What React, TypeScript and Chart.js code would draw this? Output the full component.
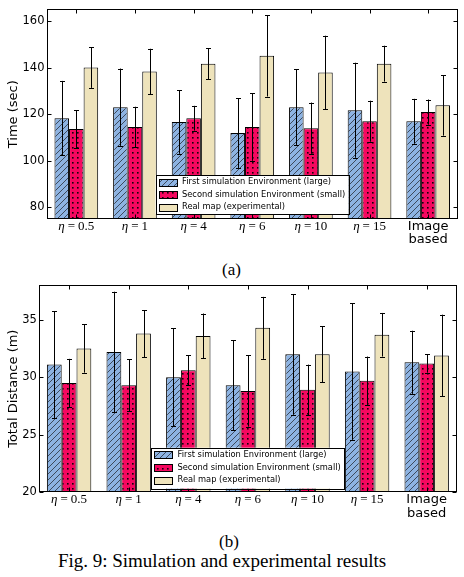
import React, { useEffect, useRef } from "react";
import { Chart, registerables } from "chart.js";
Chart.register(...registerables);

const CATEGORIES = ["η=0.5", "η=1", "η=4", "η=6", "η=10", "η=15", "Image based"];
const SERIES_LABELS = [
  "First simulation Environment (large)",
  "Second simulation Environment (small)",
  "Real map (experimental)",
];

const TIME_FIRST = [118.3, 123.0, 116.6, 111.9, 123.0, 121.7, 117.0];
const TIME_FIRST_ERR = [16.0, 16.6, 13.6, 15.0, 16.2, 20.4, 9.6];
const TIME_SECOND = [113.6, 114.5, 118.3, 114.5, 114.0, 117.0, 120.9];
const TIME_SECOND_ERR = [8.2, 8.7, 5.3, 14.5, 11.0, 8.8, 5.4];
const TIME_REAL = [140.0, 138.3, 141.7, 145.1, 137.9, 141.7, 123.8];
const TIME_REAL_ERR = [8.7, 9.8, 6.6, 17.5, 15.8, 7.7, 13.0];
const TIME_TICKS = [80, 100, 120, 140, 160];

const DIST_FIRST = [31.1, 32.2, 30.0, 29.3, 32.0, 30.5, 31.3];
const DIST_FIRST_ERR = [4.65, 5.25, 4.25, 3.9, 5.25, 5.95, 2.75];
const DIST_SECOND = [29.5, 29.3, 30.6, 28.8, 28.9, 29.7, 31.2];
const DIST_SECOND_ERR = [2.1, 2.25, 1.3, 3.1, 2.2, 2.1, 0.8];
const DIST_REAL = [32.5, 33.8, 33.6, 34.3, 32.0, 33.7, 31.9];
const DIST_REAL_ERR = [2.1, 2.05, 1.95, 2.7, 2.45, 1.9, 3.55];
const DIST_TICKS = [20, 25, 30, 35];

const BLUE = "#8db3e2";
const HATCH = "#3d4a5c";
const RED = "#f5085f";
const BEIGE = "#eee3bb";

function hatchPattern(): CanvasPattern | string {
  const c = document.createElement("canvas");
  c.width = 6;
  c.height = 6;
  const g = c.getContext("2d");
  if (!g) return BLUE;
  g.fillStyle = BLUE;
  g.fillRect(0, 0, 6, 6);
  g.strokeStyle = HATCH;
  g.lineWidth = 1;
  g.beginPath();
  g.moveTo(-1, 7);
  g.lineTo(7, -1);
  g.moveTo(-4, 4);
  g.lineTo(4, -4);
  g.moveTo(2, 10);
  g.lineTo(10, 2);
  g.stroke();
  return g.createPattern(c, "repeat") || BLUE;
}

function dotPattern(): CanvasPattern | string {
  const c = document.createElement("canvas");
  c.width = 5;
  c.height = 5;
  const g = c.getContext("2d");
  if (!g) return RED;
  g.fillStyle = RED;
  g.fillRect(0, 0, 5, 5);
  g.fillStyle = "#14000a";
  g.fillRect(2, 2, 1.6, 1.6);
  return g.createPattern(c, "repeat") || RED;
}

const errorBarsPlugin = {
  id: "errorBars",
  afterDatasetsDraw(chart: any, _a: any, opts: any) {
    const errs: number[][] = opts.errors || [];
    const ctx = chart.ctx;
    const y = chart.scales.y;
    const area = chart.chartArea;
    ctx.save();
    ctx.beginPath();
    ctx.rect(area.left, area.top, area.right - area.left, area.bottom - area.top);
    ctx.clip();
    ctx.strokeStyle = "#000";
    ctx.lineWidth = 1;
    chart.data.datasets.forEach((ds: any, i: number) => {
      const meta = chart.getDatasetMeta(i);
      meta.data.forEach((el: any, j: number) => {
        const v = ds.data[j];
        const e = (errs[i] || [])[j] || 0;
        const yh = y.getPixelForValue(v + e);
        const yl = y.getPixelForValue(v - e);
        const x = Math.round(el.x) + 0.5;
        ctx.beginPath();
        ctx.moveTo(x, yh);
        ctx.lineTo(x, yl);
        ctx.moveTo(x - 2.5, Math.round(yh) + 0.5);
        ctx.lineTo(x + 2.5, Math.round(yh) + 0.5);
        ctx.moveTo(x - 2.5, Math.round(yl) + 0.5);
        ctx.lineTo(x + 2.5, Math.round(yl) + 0.5);
        ctx.stroke();
      });
    });
    ctx.restore();
  },
};

const framePlugin = {
  id: "frame",
  afterDatasetsDraw(chart: any) {
    const ctx = chart.ctx;
    const a = chart.chartArea;
    const x = chart.scales.x;
    const y = chart.scales.y;
    ctx.save();
    ctx.strokeStyle = "#000";
    ctx.lineWidth = 1;
    const L = Math.round(a.left) + 0.5;
    const R = Math.round(a.right) - 0.5;
    const T = Math.round(a.top) + 0.5;
    const B = Math.round(a.bottom) - 0.5;
    ctx.strokeRect(L, T, R - L, B - T);
    ctx.beginPath();
    y.ticks.forEach((t: any) => {
      const py = Math.round(y.getPixelForValue(t.value)) + 0.5;
      ctx.moveTo(L, py);
      ctx.lineTo(L + 4, py);
      ctx.moveTo(R, py);
      ctx.lineTo(R - 4, py);
    });
    chart.data.labels.forEach((_l: any, i: number) => {
      const px = Math.round(x.getPixelForValue(i)) + 0.5;
      ctx.moveTo(px, T);
      ctx.lineTo(px, T + 4);
      ctx.moveTo(px, B);
      ctx.lineTo(px, B - 4);
    });
    ctx.stroke();
    ctx.restore();
  },
};

const xLabelsPlugin = {
  id: "xLabels",
  afterDraw(chart: any, _a: any, opts: any) {
    const ctx = chart.ctx;
    const x = chart.scales.x;
    const base = chart.chartArea.bottom + (opts.offset || 8);
    ctx.save();
    ctx.fillStyle = "#000";
    ctx.textBaseline = "middle";
    ctx.textAlign = "left";
    chart.data.labels.forEach((lab: string, i: number) => {
      const cx = x.getPixelForValue(i);
      if (lab.startsWith("η=")) {
        const rest = lab.slice(2);
        const fi = 'italic 13px "Liberation Serif"';
        const fr = '13px "Liberation Serif"';
        const gap = 3;
        ctx.font = fi;
        const w1 = ctx.measureText("η").width;
        ctx.font = fr;
        const w2 = ctx.measureText("=").width;
        const w3 = ctx.measureText(rest).width;
        const total = w1 + gap + w2 + gap + w3;
        let px = cx - total / 2;
        ctx.font = fi;
        ctx.fillText("η", px, base);
        px += w1 + gap;
        ctx.font = fr;
        ctx.fillText("=", px, base);
        px += w2 + gap;
        ctx.fillText(rest, px, base);
      } else {
        ctx.font = '13px "DejaVu Sans"';
        ctx.textAlign = "center";
        lab.split(" ").forEach((line, k) => {
          ctx.fillText(line, cx, base + k * (opts.lineGap || 13.5));
        });
        ctx.textAlign = "left";
      }
    });
    ctx.restore();
  },
};

const boxLegendPlugin = {
  id: "boxLegend",
  afterDraw(chart: any, _a: any, o: any) {
    const ctx = chart.ctx;
    ctx.save();
    ctx.fillStyle = "#fff";
    ctx.fillRect(o.x, o.y, o.w, o.h);
    ctx.strokeStyle = "#000";
    ctx.lineWidth = 1;
    ctx.strokeRect(Math.round(o.x) + 0.5, Math.round(o.y) + 0.5, Math.round(o.w), Math.round(o.h));
    ctx.font = '8.3px "DejaVu Sans"';
    ctx.textBaseline = "middle";
    chart.data.datasets.forEach((ds: any, i: number) => {
      const cy = o.y + o.first + i * o.step;
      const sx = Math.round(o.x + 3) + 0.5;
      const sy = Math.round(cy - 3.5) + 0.5;
      ctx.fillStyle = ds.backgroundColor;
      ctx.fillRect(sx, sy, 18, 7);
      ctx.strokeStyle = "#000";
      ctx.strokeRect(sx, sy, 18, 7);
      ctx.fillStyle = "#000";
      ctx.fillText(ds.label, o.x + 26.5, cy);
    });
    ctx.restore();
  },
};

type Cfg = {
  series: number[][];
  errors: number[][];
  ticks: number[];
  min: number;
  max: number;
  title: string;
  height: number;
  padTop: number;
  padRight: number;
  yWidth: number;
  xHeight: number;
  legend: any;
  labelOffset: number;
  lineGap: number;
};

function BarChart({ cfg }: { cfg: Cfg }) {
  const ref = useRef<HTMLCanvasElement | null>(null);
  useEffect(() => {
    if (!ref.current) return;
    const fills = [hatchPattern(), dotPattern(), BEIGE];
    const chart = new Chart(ref.current, {
      type: "bar",
      data: {
        labels: CATEGORIES,
        datasets: cfg.series.map((d, i) => ({
          label: SERIES_LABELS[i],
          data: d,
          backgroundColor: fills[i] as any,
          borderColor: "#000",
          borderWidth: 1,
          borderSkipped: false,
          categoryPercentage: 0.745,
          barPercentage: 1.0,
        })),
      },
      options: {
        animation: false,
        responsive: false,
        devicePixelRatio: 1,
        layout: { padding: { top: cfg.padTop, right: cfg.padRight, left: 0, bottom: 0 } },
        plugins: {
          legend: { display: false },
          tooltip: { enabled: false },
          errorBars: { errors: cfg.errors },
          xLabels: { offset: cfg.labelOffset, lineGap: cfg.lineGap },
          boxLegend: cfg.legend,
        } as any,
        scales: {
          x: {
            grid: { display: false },
            border: { display: false },
            ticks: { display: false },
            afterFit: (s: any) => {
              s.height = cfg.xHeight;
            },
          },
          y: {
            min: cfg.min,
            max: cfg.max,
            grid: { display: false, drawTicks: false },
            border: { display: false },
            afterBuildTicks: (s: any) => {
              s.ticks = cfg.ticks.map((v) => ({ value: v }));
            },
            ticks: {
              padding: 2.5,
              color: "#000",
              font: { family: "DejaVu Sans", size: 11.5 },
            },
            title: {
              display: true,
              text: cfg.title,
              color: "#000",
              font: { family: "DejaVu Sans", size: 13 },
              padding: { top: 6, bottom: 0 },
            },
            afterFit: (s: any) => {
              s.width = cfg.yWidth;
            },
          },
        },
      },
      plugins: [errorBarsPlugin, framePlugin, boxLegendPlugin, xLabelsPlugin],
    });
    return () => chart.destroy();
  }, [cfg]);
  return <canvas ref={ref} width={464} height={cfg.height} style={{ display: "block" }} />;
}

const TIME_CFG: Cfg = {
  series: [TIME_FIRST, TIME_SECOND, TIME_REAL],
  errors: [TIME_FIRST_ERR, TIME_SECOND_ERR, TIME_REAL_ERR],
  ticks: TIME_TICKS,
  min: 75,
  max: 165,
  title: "Time (sec)",
  height: 252,
  padTop: 6,
  padRight: 6.5,
  yWidth: 47,
  xHeight: 33,
  legend: { x: 155.5, y: 175, w: 193, h: 39, first: 7.3, step: 12.35 },
  labelOffset: 8,
  lineGap: 13,
};

const DIST_CFG: Cfg = {
  series: [DIST_FIRST, DIST_SECOND, DIST_REAL],
  errors: [DIST_FIRST_ERR, DIST_SECOND_ERR, DIST_REAL_ERR],
  ticks: DIST_TICKS,
  min: 20,
  max: 38,
  title: "Total Distance (m)",
  height: 250,
  padTop: 4.5,
  padRight: 7.5,
  yWidth: 39.3,
  xHeight: 34,
  legend: { x: 151, y: 171.7, w: 193.3, h: 41, first: 7, step: 12.65 },
  labelOffset: 7.5,
  lineGap: 14,
};

const cap: React.CSSProperties = {
  position: "absolute",
  left: 0,
  width: 464,
  textAlign: "center",
  fontFamily: '"Liberation Serif", serif',
  fontSize: 19,
  lineHeight: "20px",
  color: "#000",
  whiteSpace: "nowrap",
};

export default function App() {
  return (
    <div style={{ position: "absolute", left: 0, top: 0, width: 464, height: 577, background: "#fff" }}>
      <div style={{ position: "absolute", left: 0, top: 0 }}>
        <BarChart cfg={TIME_CFG} />
      </div>
      <div style={{ ...cap, top: 259.5, left: -0.5, fontSize: 17 }}>(a)</div>
      <div style={{ position: "absolute", left: 0, top: 276 }}>
        <BarChart cfg={DIST_CFG} />
      </div>
      <div style={{ ...cap, top: 531.5, left: -3, fontSize: 17 }}>(b)</div>
      <div style={{ ...cap, top: 550.5, left: -10 }}>Fig. 9: Simulation and experimental results</div>
    </div>
  );
}
